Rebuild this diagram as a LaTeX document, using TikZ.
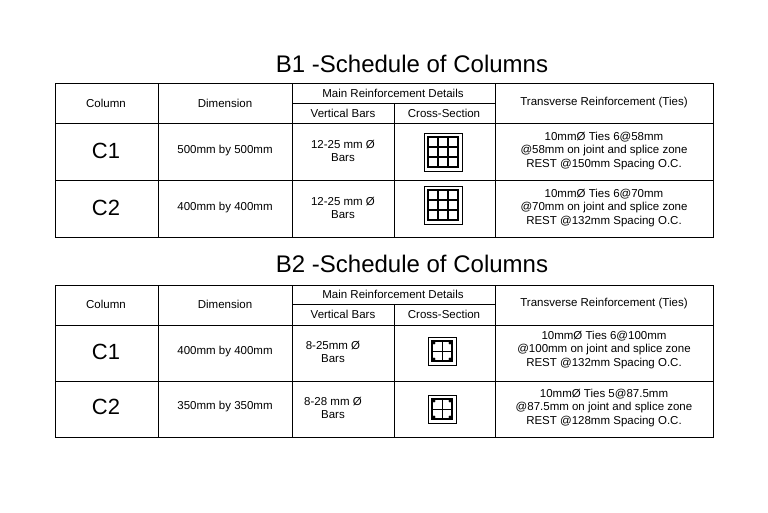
\documentclass[tikz,border=0pt]{standalone}
\usepackage{fontspec}
\setmainfont{Liberation Sans}
\begin{document}
\begin{tikzpicture}[x=1pt,y=-1pt,
  grid/.style={line width=0.9pt,black},
  txt/.style={font=\fontsize{11.5}{13.5}\selectfont,align=center,inner sep=0},
  big/.style={font=\fontsize{22}{24}\selectfont,inner sep=0},
  ttl/.style={font=\fontsize{24}{26}\selectfont,inner sep=0}]
\useasboundingbox (0,0) rectangle (768,512);
\newcommand{\mytable}[6]{% y0, title, rowA text..., 
}
% ---------- icon macros
\newcommand{\icontw}[3]{% cx, cy, half size : 12 bars
  \begin{scope}[shift={(#1,#2)}]
  \draw[line width=0.8pt] (-#3,-#3) rectangle (#3,#3);
  \draw[line width=2pt] (-#3+4,-#3+4) rectangle (#3-4,#3-4);
  \draw[line width=1.6pt] (-5,-#3+4) -- (-5,#3-4) (5,-#3+4) -- (5,#3-4)
     (-#3+4,-5) -- (#3-4,-5) (-#3+4,5) -- (#3-4,5);
  \end{scope}}
\newcommand{\iconei}[3]{% 8 bars
  \begin{scope}[shift={(#1,#2)}]
  \draw[line width=0.8pt] (-#3,-#3) rectangle (#3,#3);
  \draw[line width=1.8pt] (-#3+4,-#3+4) rectangle (#3-4,#3-4);
  \draw[line width=1pt] (0,-#3+4) -- (0,#3-4) (-#3+4,0) -- (#3-4,0);
  \foreach \sx in {-1,1}{\foreach \sy in {-1,1}{
    \fill (\sx*#3-\sx*6,\sy*#3-\sy*6) circle (1.6);}}
  \end{scope}}
% ---------- table 1
\node[ttl] (t1) at (412,64) {B1 -Schedule of Columns};
\draw[grid] (55,83) rectangle (713,237);
\draw[grid] (55,123) -- (713,123) (55,180) -- (713,180)
  (158,83) -- (158,237) (292,83) -- (292,237) (495,83) -- (495,237)
  (394,103) -- (394,237) (292,103) -- (495,103);
\node[txt] (h1a) at (106,103) {Column};
\node[txt] (h1b) at (225,103) {Dimension};
\node[txt] (h1c) at (393,93) {Main Reinforcement Details};
\node[txt] (h1d) at (343,113) {Vertical Bars};
\node[txt] (h1e) at (444,113) {Cross-Section};
\node[txt] (h1f) at (604,103) {Transverse Reinforcement (Ties)};
\node[big] (r1a) at (106,151) {C1};
\node[txt] (r1b) at (225,151) {500mm by 500mm};
\node[txt] (r1c) at (343,151) {12-25 mm Ø\\Bars};
\node[txt] (r1d) at (604,151) {10mmØ Ties 6@58mm\\@58mm on joint and splice zone\\REST @150mm Spacing O.C.};
\icontw{443}{152}{19}
\node[big] (r2a) at (106,208) {C2};
\node[txt] (r2b) at (225,208) {400mm by 400mm};
\node[txt] (r2c) at (343,208) {12-25 mm Ø\\Bars};
\node[txt] (r2d) at (604,208) {10mmØ Ties 6@70mm\\@70mm on joint and splice zone\\REST @132mm Spacing O.C.};
\icontw{443}{205}{19}
% ---------- table 2
\node[ttl] (t2) at (412,264) {B2 -Schedule of Columns};
\draw[grid] (55,285) rectangle (713,437);
\draw[grid] (55,325) -- (713,325) (55,381) -- (713,381)
  (158,285) -- (158,437) (292,285) -- (292,437) (495,285) -- (495,437)
  (394,304) -- (394,437) (292,304) -- (495,304);
\node[txt] (h2a) at (106,304) {Column};
\node[txt] (h2b) at (225,304) {Dimension};
\node[txt] (h2c) at (393,294) {Main Reinforcement Details};
\node[txt] (h2d) at (343,314) {Vertical Bars};
\node[txt] (h2e) at (444,314) {Cross-Section};
\node[txt] (h2f) at (604,304) {Transverse Reinforcement (Ties)};
\node[big] (s1a) at (106,352) {C1};
\node[txt] (s1b) at (225,352) {400mm by 400mm};
\node[txt] (s1c) at (333,352) {8-25mm Ø\\Bars};
\node[txt] (s1d) at (604,350) {10mmØ Ties 6@100mm\\@100mm on joint and splice zone\\REST @132mm Spacing O.C.};
\iconei{442}{351}{14}
\node[big] (s2a) at (106,407) {C2};
\node[txt] (s2b) at (225,407) {350mm by 350mm};
\node[txt] (s2c) at (333,408) {8-28 mm Ø\\Bars};
\node[txt] (s2d) at (604,408) {10mmØ Ties 5@87.5mm\\@87.5mm on joint and splice zone\\REST @128mm Spacing O.C.};
\iconei{442}{409}{14}
\end{tikzpicture}
\end{document}
